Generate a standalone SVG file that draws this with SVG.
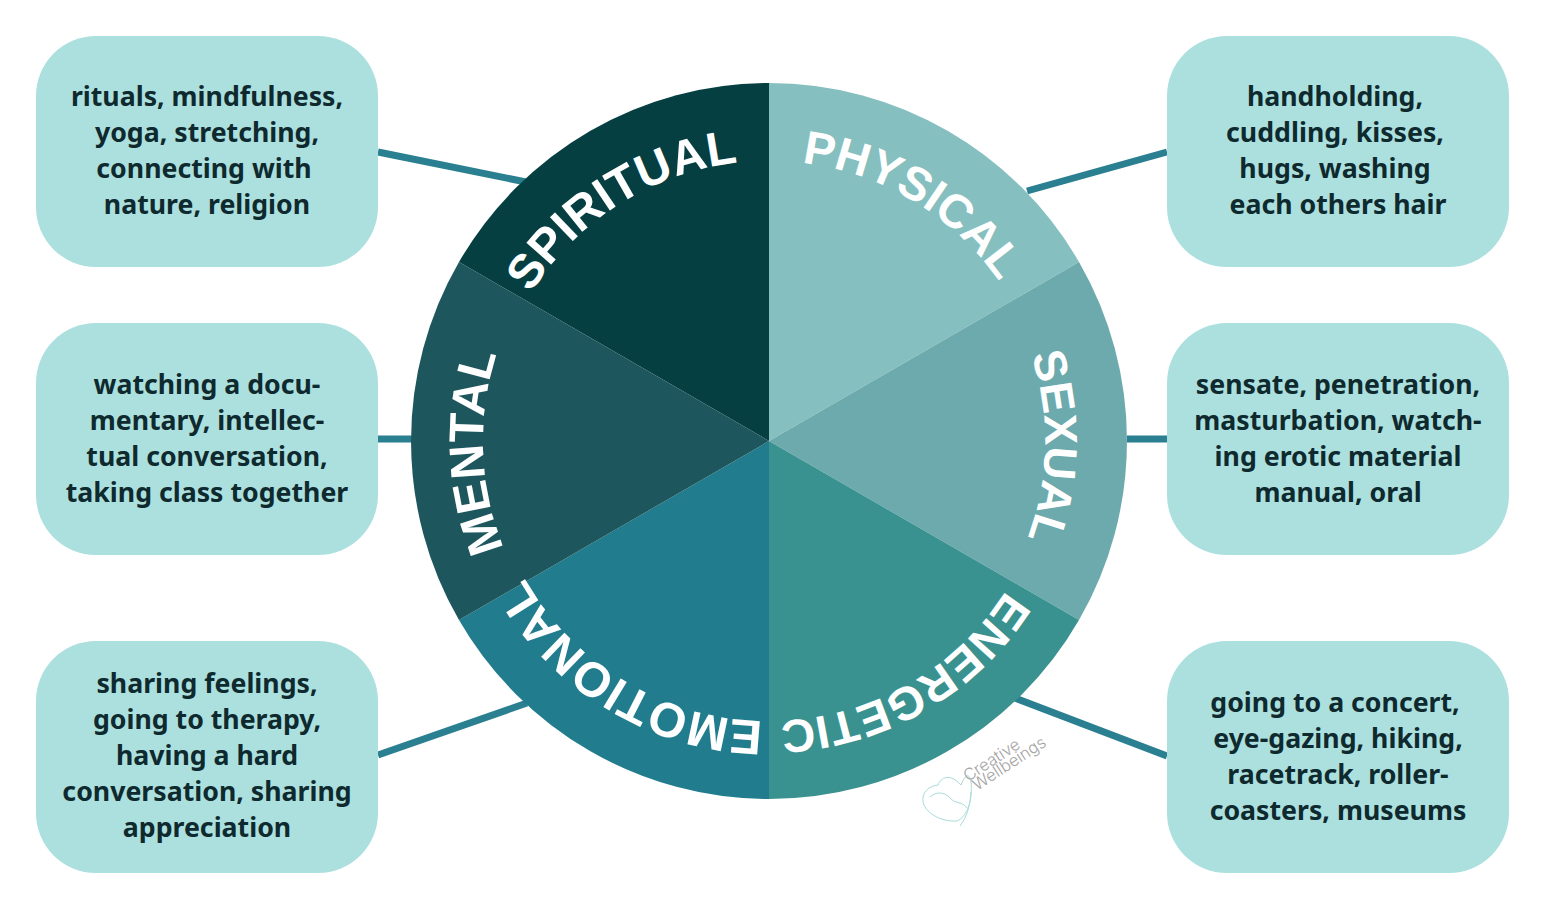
<svg xmlns="http://www.w3.org/2000/svg" width="1545" height="911" viewBox="0 0 1545 911">
<style>
.box{fill:#ace0df}
.t{font-family:"Noto Sans","Liberation Sans",sans-serif;font-weight:700;font-size:26.7px;fill:#0e2a2e;text-anchor:middle}
.lab{font-family:"Liberation Sans",Arial,sans-serif;font-weight:700;font-size:47px;fill:#fff;text-anchor:middle}
.con{stroke:#2a7f90;stroke-width:7;fill:none}
.logo{font-family:"Inter","Liberation Sans",sans-serif;font-weight:300;font-size:16.5px;fill:#a5a5a5}
</style>
<defs>
<path id="arc" d="M526.5 301A280 280 0 0 1 1011.5 301"/>
<path id="arcIn" d="M530 303A276 276 0 0 1 1008 303"/>
</defs>
<rect width="1545" height="911" fill="#fff"/>
<g id="connectors">
<line class="con" x1="378" y1="152" x2="526" y2="182"/>
<line class="con" x1="1167" y1="152" x2="1027" y2="191"/>
<line class="con" x1="378" y1="439" x2="414" y2="439"/>
<line class="con" x1="1127" y1="439" x2="1167" y2="439"/>
<line class="con" x1="378" y1="755" x2="527" y2="703"/>
<line class="con" x1="1167" y1="756" x2="1015" y2="698"/>
</g>
<g id="wheel">
<g id="spiritual"><path d="M769 441V83A358 358 0 0 0 459 262Z" fill="#053f42"/></g>
<g id="physical"><path d="M769 441V83A358 358 0 0 1 1079 262Z" fill="#86bfbf"/></g>
<g id="sexual"><path d="M769 441L1079 262A358 358 0 0 1 1079 620Z" fill="#6caaad"/></g>
<g id="energetic"><path d="M769 441L1079 620A358 358 0 0 1 769 799Z" fill="#39928f"/></g>
<g id="emotional"><path d="M769 441V799A358 358 0 0 1 459 620Z" fill="#217c8d"/></g>
<g id="mental"><path d="M769 441L459 620A358 358 0 0 1 459 262Z" fill="#1d565c"/></g>
</g>
<g id="wheel-labels">
<text class="lab" style="font-size:48px" transform="rotate(-32.3 769 441)"><textPath href="#arc" startOffset="50%">SPIRITUAL</textPath></text>
<text class="lab" transform="rotate(31 769 441)"><textPath href="#arc" startOffset="50%">PHYSICAL</textPath></text>
<text class="lab" style="font-size:46px" transform="rotate(91.2 769 441)"><textPath href="#arcIn" startOffset="50%">SEXUAL</textPath></text>
<text class="lab" style="font-size:46.5px" transform="rotate(150 769 441)"><textPath href="#arc" startOffset="50%">ENERGETIC</textPath></text>
<text class="lab" style="font-size:48.5px" transform="rotate(-149 769 441)"><textPath href="#arc" startOffset="50%">EMOTIONAL</textPath></text>
<text class="lab" style="font-size:48.5px" transform="translate(-6 0) rotate(-92.2 769 441)"><textPath href="#arc" startOffset="50%">MENTAL</textPath></text>
</g>
<g id="box-spiritual"><rect class="box" x="36" y="36" width="342" height="231" rx="60"/>
<text class="t"><tspan x="207" y="106">rituals, mindfulness,</tspan><tspan x="207" y="142">yoga, stretching,</tspan><tspan x="204" y="178">connecting with</tspan><tspan x="207" y="214">nature, religion</tspan></text></g>
<g id="box-mental"><rect class="box" x="36" y="323" width="342" height="232" rx="60"/>
<text class="t"><tspan x="207" y="394">watching a docu-</tspan><tspan x="207" y="430">mentary, intellec-</tspan><tspan x="207" y="466">tual conversation,</tspan><tspan x="207" y="502">taking class together</tspan></text></g>
<g id="box-emotional"><rect class="box" x="36" y="641" width="342" height="232" rx="60"/>
<text class="t"><tspan x="207" y="693">sharing feelings,</tspan><tspan x="207" y="729">going to therapy,</tspan><tspan x="207" y="765">having a hard</tspan><tspan x="207" y="801">conversation, sharing</tspan><tspan x="207" y="837">appreciation</tspan></text></g>
<g id="box-physical"><rect class="box" x="1167" y="36" width="342" height="231" rx="60"/>
<text class="t"><tspan x="1335" y="106">handholding,</tspan><tspan x="1335" y="142">cuddling, kisses,</tspan><tspan x="1335" y="178">hugs, washing</tspan><tspan x="1338" y="214">each others hair</tspan></text></g>
<g id="box-sexual"><rect class="box" x="1167" y="323" width="342" height="232" rx="60"/>
<text class="t"><tspan x="1338" y="394">sensate, penetration,</tspan><tspan x="1338" y="430">masturbation, watch-</tspan><tspan x="1338" y="466">ing erotic material</tspan><tspan x="1338" y="502">manual, oral</tspan></text></g>
<g id="box-energetic"><rect class="box" x="1167" y="641" width="342" height="232" rx="60"/>
<text class="t"><tspan x="1335" y="712">going to a concert,</tspan><tspan x="1338" y="748">eye-gazing, hiking,</tspan><tspan x="1338" y="784">racetrack, roller-</tspan><tspan x="1338" y="820">coasters, museums</tspan></text></g>
<g id="logo">
<path d="M961 785C950 773 941 777 938 785C928 786 922 793 923 801C924 812 940 822 957 821C967 817 973 800 971 782C969 772 965 775 961 785M971 792C970 805 968 815 960 826" fill="none" stroke="#a9dcd9" stroke-width="1"/>
<path d="M930 797C938 790 946 793 951 799C956 804 962 801 967 808" fill="none" stroke="#a9dcd9" stroke-width="1"/>
<text class="logo" transform="translate(968 782) rotate(-33)">Creative</text>
<text class="logo" transform="translate(977 791) rotate(-33)">Wellbeings</text>
</g>
</svg>
